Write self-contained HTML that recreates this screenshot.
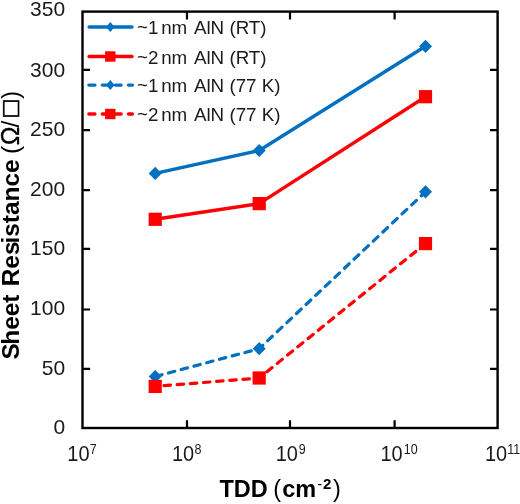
<!DOCTYPE html><html><head><meta charset="utf-8"><style>html,body{margin:0;padding:0;background:#fff;overflow:hidden}svg{display:block;filter:blur(0.3px)}</style></head><body>
<svg width="520" height="504" viewBox="0 0 520 504">
<rect width="520" height="504" fill="#fff"/>
<rect x="82.5" y="11.6" width="415.10" height="416.40" fill="none" stroke="#000" stroke-width="2.4"/>
<path d="M82.5 69.9h7.6M497.6 69.9h-7.6M82.5 130.1h7.6M497.6 130.1h-7.6M82.5 190.2h7.6M497.6 190.2h-7.6M82.5 248.9h7.6M497.6 248.9h-7.6M82.5 309.5h7.6M497.6 309.5h-7.6M82.5 368.9h7.6M497.6 368.9h-7.6M187 428.0v-7.8M187 11.6v7.8M290 428.0v-7.8M290 11.6v7.8M394.6 428.0v-7.8M394.6 11.6v7.8" stroke="#000" stroke-width="2.2" fill="none"/>
<polyline points="155.20,173.40 259.20,150.50 425.50,46.30" fill="none" stroke="#0070C0" stroke-width="3.4" stroke-linejoin="round"/>
<path d="M155.20 166.80L161.70 173.40L155.20 180.00L148.70 173.40Z" fill="#0070C0"/>
<path d="M259.20 143.90L265.70 150.50L259.20 157.10L252.70 150.50Z" fill="#0070C0"/>
<path d="M425.50 39.70L432.00 46.30L425.50 52.90L419.00 46.30Z" fill="#0070C0"/>
<polyline points="155.20,219.30 259.20,203.60 425.50,96.70" fill="none" stroke="#FF0000" stroke-width="3.4" stroke-linejoin="round"/>
<rect x="148.60" y="212.70" width="13.20" height="13.20" fill="#FF0000"/>
<rect x="252.60" y="197.00" width="13.20" height="13.20" fill="#FF0000"/>
<rect x="418.90" y="90.10" width="13.20" height="13.20" fill="#FF0000"/>
<polyline points="155.20,376.50 259.20,348.70 425.50,191.80" fill="none" stroke="#0070C0" stroke-width="3.2" stroke-linejoin="round" stroke-linecap="round" stroke-dasharray="6.5 6.7" stroke-dashoffset="-0.5"/>
<path d="M155.20 369.90L161.70 376.50L155.20 383.10L148.70 376.50Z" fill="#0070C0"/>
<path d="M259.20 342.10L265.70 348.70L259.20 355.30L252.70 348.70Z" fill="#0070C0"/>
<path d="M425.50 185.20L432.00 191.80L425.50 198.40L419.00 191.80Z" fill="#0070C0"/>
<polyline points="155.20,386.40 259.20,378.00 425.50,243.60" fill="none" stroke="#FF0000" stroke-width="3.2" stroke-linejoin="round" stroke-linecap="round" stroke-dasharray="6.5 6.7" stroke-dashoffset="-8.8"/>
<rect x="148.60" y="379.80" width="13.20" height="13.20" fill="#FF0000"/>
<rect x="252.60" y="371.40" width="13.20" height="13.20" fill="#FF0000"/>
<rect x="418.90" y="237.00" width="13.20" height="13.20" fill="#FF0000"/>
<path d="M89.1 27H132.0" stroke="#0070C0" stroke-width="3.4" stroke-linecap="round"/>
<path d="M110.30 22.00L114.50 27.00L110.30 32.00L106.10 27.00Z" fill="#0070C0"/>
<text x="137" y="34" font-family="Liberation Sans, Arial, sans-serif" font-size="18.8" fill="#1a1a1a"><tspan dy="-0.8">~</tspan><tspan dy="0.8">1 </tspan><tspan dx="-2.5">nm</tspan><tspan dx="2.5"> AlN (RT)</tspan></text>
<path d="M89.1 56.5H132.0" stroke="#FF0000" stroke-width="3.4" stroke-linecap="round"/>
<rect x="105.10" y="51.30" width="10.40" height="10.40" fill="#FF0000"/>
<text x="137" y="63.5" font-family="Liberation Sans, Arial, sans-serif" font-size="18.8" fill="#1a1a1a"><tspan dy="-0.8">~</tspan><tspan dy="0.8">2 </tspan><tspan dx="-2.5">nm</tspan><tspan dx="2.5"> AlN (RT)</tspan></text>
<path d="M88.9 85.1H94.9M102.3 85.1H108.3M115.4 85.1H121.1M128.5 85.1H132.4" stroke="#0070C0" stroke-width="3.4" stroke-linecap="round"/>
<path d="M110.30 80.10L114.50 85.10L110.30 90.10L106.10 85.10Z" fill="#0070C0"/>
<text x="137" y="92.1" font-family="Liberation Sans, Arial, sans-serif" font-size="18.8" fill="#1a1a1a"><tspan dy="-0.8">~</tspan><tspan dy="0.8">1 </tspan><tspan dx="-2.5">nm</tspan><tspan dx="2.5"> AlN (77 K)</tspan></text>
<path d="M88.9 114H94.9M102.3 114H108.3M115.4 114H121.1M128.5 114H132.4" stroke="#FF0000" stroke-width="3.4" stroke-linecap="round"/>
<rect x="105.10" y="108.80" width="10.40" height="10.40" fill="#FF0000"/>
<text x="137" y="121" font-family="Liberation Sans, Arial, sans-serif" font-size="18.8" fill="#1a1a1a"><tspan dy="-0.8">~</tspan><tspan dy="0.8">2 </tspan><tspan dx="-2.5">nm</tspan><tspan dx="2.5"> AlN (77 K)</tspan></text>
<text x="65.1" y="16.40" text-anchor="end" font-family="Liberation Sans, Arial, sans-serif" font-size="21" fill="#1a1a1a">350</text>
<text x="65.1" y="76.50" text-anchor="end" font-family="Liberation Sans, Arial, sans-serif" font-size="21" fill="#1a1a1a">300</text>
<text x="65.1" y="135.80" text-anchor="end" font-family="Liberation Sans, Arial, sans-serif" font-size="21" fill="#1a1a1a">250</text>
<text x="65.1" y="196.20" text-anchor="end" font-family="Liberation Sans, Arial, sans-serif" font-size="21" fill="#1a1a1a">200</text>
<text x="65.1" y="255.30" text-anchor="end" font-family="Liberation Sans, Arial, sans-serif" font-size="21" fill="#1a1a1a">150</text>
<text x="65.1" y="315.40" text-anchor="end" font-family="Liberation Sans, Arial, sans-serif" font-size="21" fill="#1a1a1a">100</text>
<text x="65.1" y="374.50" text-anchor="end" font-family="Liberation Sans, Arial, sans-serif" font-size="21" fill="#1a1a1a">50</text>
<text x="65.1" y="434.40" text-anchor="end" font-family="Liberation Sans, Arial, sans-serif" font-size="21" fill="#1a1a1a">0</text>
<text transform="translate(0 460.5) scale(1 1.11)" x="67.38" y="0" font-family="Liberation Sans, Arial, sans-serif" font-size="20" fill="#1a1a1a">10<tspan x="89.66" dy="-5.95" font-size="12.5">7</tspan></text>
<text transform="translate(0 460.5) scale(1 1.11)" x="171.98" y="0" font-family="Liberation Sans, Arial, sans-serif" font-size="20" fill="#1a1a1a">10<tspan x="194.46" dy="-5.95" font-size="12.5">8</tspan></text>
<text transform="translate(0 460.5) scale(1 1.11)" x="275.68" y="0" font-family="Liberation Sans, Arial, sans-serif" font-size="20" fill="#1a1a1a">10<tspan x="298.8" dy="-5.95" font-size="12.5">9</tspan></text>
<text transform="translate(0 460.5) scale(1 1.11)" x="380.48" y="0" font-family="Liberation Sans, Arial, sans-serif" font-size="20" fill="#1a1a1a">10<tspan x="403.8" dy="-5.95" font-size="12.5">10</tspan></text>
<text transform="translate(0 460.5) scale(1 1.11)" x="484.98" y="0" font-family="Liberation Sans, Arial, sans-serif" font-size="20" fill="#1a1a1a">10<tspan x="507.35" dy="-5.95" font-size="12.5">11</tspan></text>
<text x="219.5" y="496.5" font-family="Liberation Sans, Arial, sans-serif" font-weight="bold" font-size="23.5" fill="#000">TDD <tspan x="273.3" font-weight="normal">(</tspan><tspan x="282.3">cm</tspan><tspan x="317.3" font-weight="normal" font-size="15" dy="-8">-</tspan><tspan x="323" font-size="15">2</tspan><tspan x="332.9" dy="8" font-weight="normal">)</tspan></text>
<text transform="translate(19.3 359.5) rotate(-90)" font-family="Liberation Sans, Arial, sans-serif" font-weight="bold" font-size="24.4" fill="#000">S<tspan dx="-1.5">h</tspan>eet <tspan dx="1.5">R</tspan>es<tspan dx="-2">i</tspan>stance <tspan font-weight="normal" x="205.5">(</tspan><tspan font-weight="normal" font-size="25" x="214.3" stroke="#000" stroke-width="0.35">Ω</tspan><tspan font-weight="normal" x="231.9">/</tspan><tspan font-weight="normal" font-family="Liberation Sans, sans-serif" font-size="26" x="243" stroke="#000" stroke-width="0.7">□</tspan><tspan font-weight="normal" x="260.5">)</tspan></text>
</svg></body></html>
